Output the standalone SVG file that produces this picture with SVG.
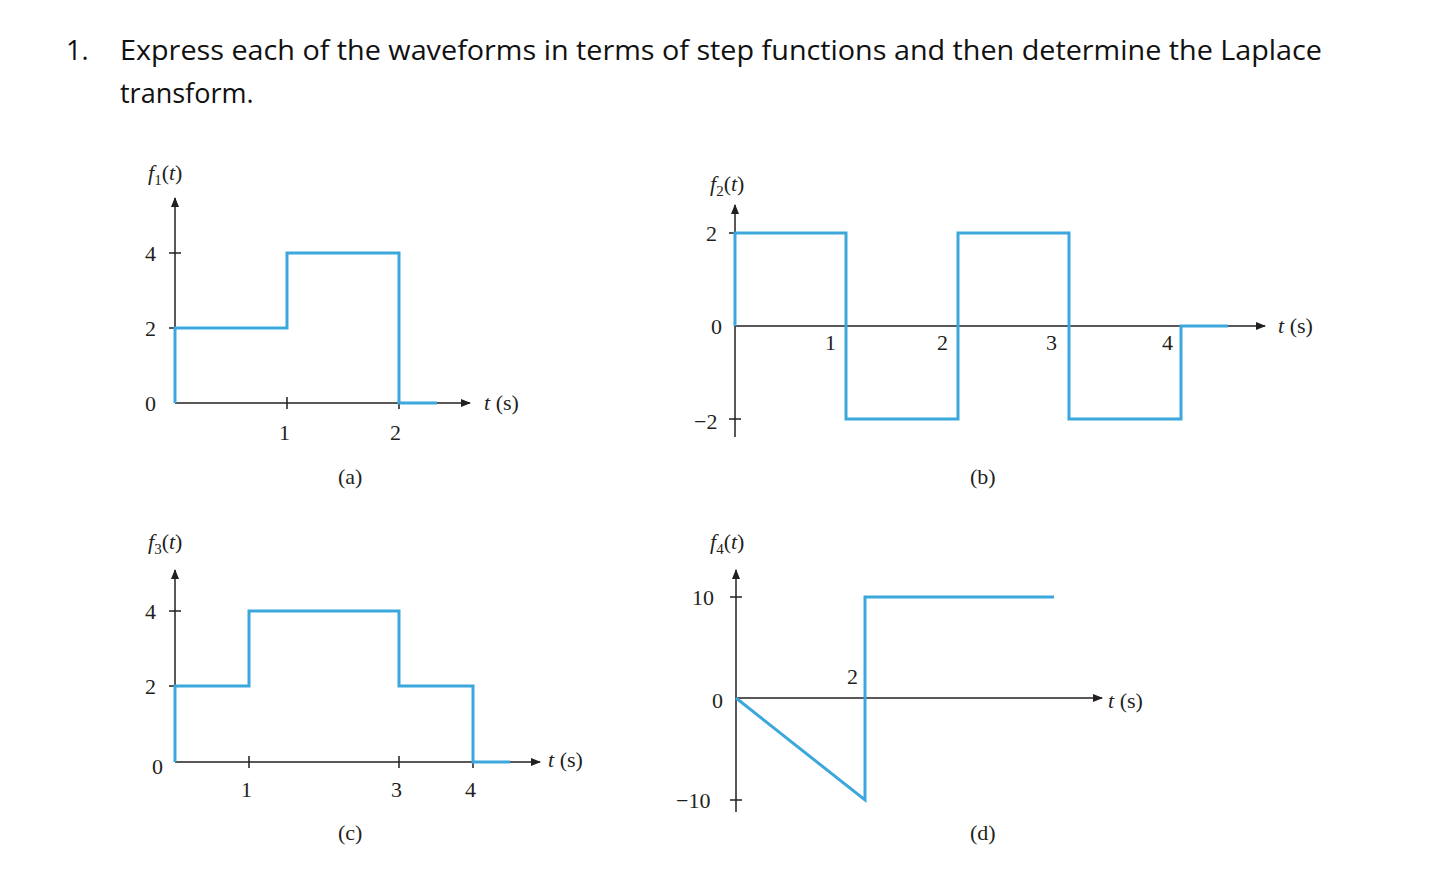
<svg xmlns="http://www.w3.org/2000/svg" width="1438" height="886" viewBox="0 0 1438 886">
<style>
.ax{stroke:#231f20;stroke-width:1.5;fill:none}
.w{stroke:#3ba7dc;stroke-width:3;fill:none}
.t{font-family:"Liberation Serif",serif;font-size:22px;fill:#231f20}
.h{font-family:"Open Sans","Liberation Sans",sans-serif;font-size:27px;fill:#111}
</style>
<defs><marker id="ar" markerWidth="10" markerHeight="8" refX="9" refY="4" orient="auto" markerUnits="userSpaceOnUse"><path d="M0,0L10,4L0,8z" fill="#231f20"/></marker></defs>
<rect width="1438" height="886" fill="#fff"/>
<text class="h" x="66" y="60">1.</text>
<text class="h" x="120" y="60" textLength="1202" lengthAdjust="spacingAndGlyphs">Express each of the waveforms in terms of step functions and then determine the Laplace</text>
<text class="h" x="120" y="103">transform.</text>
<g id="a">
<path class="ax" d="M175,403V198" marker-end="url(#ar)"/><path class="ax" d="M175,403H470" marker-end="url(#ar)"/>
<path class="ax" d="M169,253h12M169,328h12M287,397v12M399,397v12"/>
<path class="w" d="M175,403V328H287V253H399V403H437"/>
<text class="t" x="148" y="180" font-style="italic">f<tspan font-size="15" dy="5" font-style="normal">1</tspan><tspan dy="-5" font-style="normal">(</tspan>t<tspan font-style="normal">)</tspan></text>
<text class="t" x="145" y="261">4</text><text class="t" x="145" y="336">2</text><text class="t" x="145" y="411">0</text>
<text class="t" x="279" y="440">1</text><text class="t" x="390" y="440">2</text>
<text class="t" x="484" y="410"><tspan font-style="italic">t</tspan> (s)</text><text class="t" x="338" y="484">(a)</text>
</g>
<g id="b">
<path class="ax" d="M735,437V205" marker-end="url(#ar)"/><path class="ax" d="M735,326H1265" marker-end="url(#ar)"/>
<path class="ax" d="M729,233h12M729,419h12"/>
<path class="w" d="M735,326V233H846V419H958V233H1069V419H1181V326H1228"/>
<text class="t" x="710" y="191" font-style="italic">f<tspan font-size="15" dy="5" font-style="normal">2</tspan><tspan dy="-5" font-style="normal">(</tspan>t<tspan font-style="normal">)</tspan></text>
<text class="t" x="706" y="241">2</text><text class="t" x="711" y="334">0</text><text class="t" x="694" y="429">−2</text>
<text class="t" x="825" y="350">1</text><text class="t" x="937" y="350">2</text><text class="t" x="1046" y="350">3</text><text class="t" x="1162" y="350">4</text>
<text class="t" x="1278" y="333"><tspan font-style="italic">t</tspan> (s)</text><text class="t" x="970" y="484">(b)</text>
</g>
<g id="c">
<path class="ax" d="M175,762V570" marker-end="url(#ar)"/><path class="ax" d="M175,762H540" marker-end="url(#ar)"/>
<path class="ax" d="M169,611h12M169,686h12M249,756v12M399,756v12M473,756v12"/>
<path class="w" d="M175,762V686H249V611H399V686H473V762H510"/>
<text class="t" x="148" y="549" font-style="italic">f<tspan font-size="15" dy="5" font-style="normal">3</tspan><tspan dy="-5" font-style="normal">(</tspan>t<tspan font-style="normal">)</tspan></text>
<text class="t" x="145" y="619">4</text><text class="t" x="145" y="694">2</text><text class="t" x="152" y="774">0</text>
<text class="t" x="241" y="797">1</text><text class="t" x="391" y="797">3</text><text class="t" x="465" y="797">4</text>
<text class="t" x="548" y="767"><tspan font-style="italic">t</tspan> (s)</text><text class="t" x="338" y="840">(c)</text>
</g>
<g id="d">
<path class="ax" d="M736,812V570" marker-end="url(#ar)"/><path class="ax" d="M736,698H1102" marker-end="url(#ar)"/>
<path class="ax" d="M730,597h12M730,800h12"/>
<path class="w" d="M736,698L865,800V597H1054"/>
<text class="t" x="710" y="549" font-style="italic">f<tspan font-size="15" dy="5" font-style="normal">4</tspan><tspan dy="-5" font-style="normal">(</tspan>t<tspan font-style="normal">)</tspan></text>
<text class="t" x="692" y="605">10</text><text class="t" x="712" y="708">0</text><text class="t" x="676" y="808">−10</text>
<text class="t" x="847" y="684">2</text>
<text class="t" x="1108" y="708"><tspan font-style="italic">t</tspan> (s)</text><text class="t" x="970" y="840">(d)</text>
</g>
</svg>
